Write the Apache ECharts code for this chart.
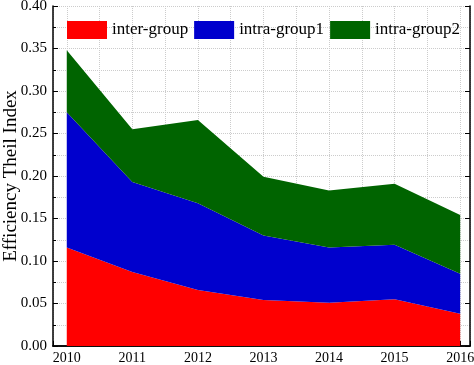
<!DOCTYPE html>
<html>
<head>
<meta charset="utf-8">
<script src="https://cdn.jsdelivr.net/npm/echarts@6/dist/echarts.min.js"></script>
<style>
  html, body { margin: 0; padding: 0; background: #fff; }
  #chart { width: 474px; height: 365px; }
</style>
</head>
<body>
<div id="chart"></div>
<script>
// data
var years = [2010, 2011, 2012, 2013, 2014, 2015, 2016];
var interGroup  = [0.116, 0.087, 0.066, 0.054, 0.051, 0.055, 0.038];
var intraGroup1 = [0.159, 0.106, 0.102, 0.076, 0.065, 0.064, 0.047];
var intraGroup2 = [0.073, 0.062, 0.098, 0.069, 0.067, 0.072, 0.069];
var seriesNames = ['inter-group', 'intra-group1', 'intra-group2'];
var seriesColors = ['#ff0000', '#0000cd', '#006400'];

var font = 'Liberation Serif';

// value first, year second, so the stack runs on the value (y) dimension
function pairs(vals) {
    return years.map(function (y, i) { return [vals[i], y]; });
}

function areaSeries(name, vals, color) {
    return {
        name: name,
        type: 'line',
        stack: 'total',
        encode: { x: 1, y: 0 },
        data: pairs(vals),
        symbol: 'none',
        lineStyle: { width: 0 },
        areaStyle: { color: color, opacity: 1 },
        itemStyle: { color: color },
        z: 2
    };
}

var chart = echarts.init(document.getElementById('chart'));

var gridLine = { show: true, lineStyle: { color: '#cccccc', type: 'dotted', width: 1 } };

option = {
    animation: false,
    textStyle: { fontFamily: font },
    grid: { left: 53, right: 4, top: 6, bottom: 19, containLabel: false, outerBoundsMode: 'none' },
    legend: {
        left: 62,
        top: 16,
        itemWidth: 40,
        itemHeight: 18,
        itemGap: 6,
        icon: 'rect',
        textStyle: { fontFamily: font, fontSize: 17, color: '#000' },
        data: seriesNames
    },
    xAxis: [
        {
            type: 'value',
            min: 2009.79,
            max: 2016.15,
            minInterval: 0.5,
            maxInterval: 0.5,
            axisLine: { lineStyle: { color: '#000', width: 1.5 } },
            axisTick: { inside: true, length: 5, lineStyle: { color: '#000' } },
            axisLabel: {
                fontFamily: font, fontSize: 14, color: '#000', margin: 5,
                formatter: function (v) {
                    return (Math.abs(v - Math.round(v)) < 1e-6) ? String(Math.round(v)) : '';
                }
            },
            splitLine: gridLine
        },
        {
            type: 'value',
            position: 'top',
            min: 2009.79,
            max: 2016.15,
            axisLine: { show: true, lineStyle: { color: '#000', width: 1.5 } },
            axisTick: { show: false },
            axisLabel: { show: false },
            splitLine: { show: false }
        }
    ],
    yAxis: [
        {
            type: 'value',
            min: 0,
            max: 0.4,
            interval: 0.05,
            name: 'Efficiency Theil Index',
            nameLocation: 'middle',
            nameGap: 32,
            nameMoveOverlap: false,
            nameTextStyle: { fontFamily: font, fontSize: 19, color: '#000' },
            axisLine: { show: true, lineStyle: { color: '#000', width: 1.5 } },
            axisTick: { show: true, inside: true, length: 5, lineStyle: { color: '#000' } },
            minorTick: { show: true, splitNumber: 2, length: 3, lineStyle: { color: '#000' } },
            axisLabel: {
                fontFamily: font, fontSize: 15, color: '#000', margin: 6,
                formatter: function (v) { return v.toFixed(2); }
            },
            splitLine: gridLine,
            minorSplitLine: gridLine
        },
        {
            type: 'value',
            position: 'right',
            min: 0,
            max: 0.4,
            interval: 0.05,
            axisLine: { show: true, lineStyle: { color: '#000', width: 1.5 } },
            axisTick: { show: true, inside: true, length: 5, lineStyle: { color: '#000' } },
            axisLabel: { show: false },
            splitLine: { show: false }
        }
    ],
    series: [
        areaSeries(seriesNames[0], interGroup, seriesColors[0]),
        areaSeries(seriesNames[1], intraGroup1, seriesColors[1]),
        areaSeries(seriesNames[2], intraGroup2, seriesColors[2])
    ]
};

chart.setOption(option);
</script>
</body>
</html>
